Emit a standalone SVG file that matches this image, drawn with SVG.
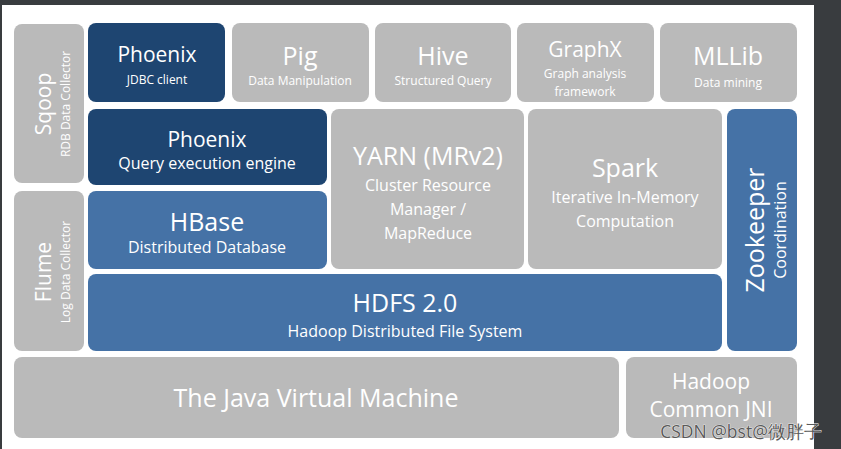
<svg xmlns="http://www.w3.org/2000/svg" width="841" height="449" viewBox="0 0 841 449">
<style>
.g{fill:#bababa}.d{fill:#1e4571}.b{fill:#4572a6}
text{font-family:"Open Sans","Noto Sans",sans-serif;fill:#fff;text-anchor:middle}
.t{font-size:21px}.s{font-size:12px}.L{font-size:25px}.m{font-size:16px}
</style>
<rect width="841" height="449" fill="#393c3f"/>
<rect x="2" y="5" width="812" height="444" fill="#fff"/>
<g id="sqoop"><rect class="g" x="14" y="24" width="70" height="159" rx="8"/><text class="t" transform="translate(51,104) rotate(-90)">Sqoop</text><text class="s" transform="translate(70,104) rotate(-90)">RDB Data Collector</text></g>
<g id="flume"><rect class="g" x="14" y="191" width="70" height="160" rx="8"/><text class="t" transform="translate(51,272) rotate(-90)">Flume</text><text class="s" transform="translate(70,272) rotate(-90)">Log Data Collector</text></g>
<g id="phoenix-jdbc"><rect class="d" x="88" y="23" width="137" height="79" rx="8"/><text class="t" x="157" y="62">Phoenix</text><text class="s" x="157" y="84" font-size="13">JDBC client</text></g>
<g id="pig"><rect class="g" x="232" y="23" width="137" height="79" rx="8"/><text class="L" x="300" y="65">Pig</text><text class="s" x="300" y="85">Data Manipulation</text></g>
<g id="hive"><rect class="g" x="375" y="23" width="136" height="79" rx="8"/><text class="L" x="443" y="65">Hive</text><text class="s" x="443" y="85">Structured Query</text></g>
<g id="graphx"><rect class="g" x="517" y="23" width="137" height="79" rx="8"/><text class="t" x="585" y="57" font-size="22">GraphX</text><text class="s" x="585" y="78">Graph analysis</text><text class="s" x="585" y="96">framework</text></g>
<g id="mllib"><rect class="g" x="660" y="23" width="137" height="79" rx="8"/><text class="L" x="728" y="65">MLLib</text><text class="s" x="728" y="87">Data mining</text></g>
<g id="phoenix-engine"><rect class="d" x="88" y="109" width="239" height="76" rx="8"/><text class="t" x="207" y="147">Phoenix</text><text class="m" x="207" y="169" font-size="14">Query execution engine</text></g>
<g id="yarn"><rect class="g" x="331" y="109" width="193" height="160" rx="8"/><text class="L" x="428" y="165" font-size="24">YARN (MRv2)</text><text class="m" x="428" y="191">Cluster Resource</text><text class="m" x="428" y="215">Manager /</text><text class="m" x="428" y="239">MapReduce</text></g>
<g id="spark"><rect class="g" x="528" y="109" width="194" height="160" rx="8"/><text class="L" x="625" y="177">Spark</text><text class="m" x="625" y="203">Iterative In-Memory</text><text class="m" x="625" y="227">Computation</text></g>
<g id="zookeeper"><rect class="b" x="727" y="109" width="70" height="242" rx="8"/><text class="L" transform="translate(764,230) rotate(-90)">Zookeeper</text><text class="m" transform="translate(786,230) rotate(-90)" font-size="15">Coordination</text></g>
<g id="hbase"><rect class="b" x="88" y="191" width="239" height="78" rx="8"/><text class="L" x="207" y="231">HBase</text><text class="m" x="207" y="253" font-size="14">Distributed Database</text></g>
<g id="hdfs"><rect class="b" x="88" y="274" width="634" height="77" rx="8"/><text class="L" x="405" y="312">HDFS 2.0</text><text class="m" x="405" y="337">Hadoop Distributed File System</text></g>
<g id="jvm"><rect class="g" x="14" y="357" width="605" height="81" rx="8"/><text class="L" x="316" y="407">The Java Virtual Machine</text></g>
<g id="hadoop-common"><rect class="g" x="626" y="357" width="171" height="81" rx="8"/><text class="t" x="711" y="389" font-size="20">Hadoop</text><text class="t" x="711" y="417" font-size="20">Common JNI</text></g>
<g id="connectors"/>
<text x="741" y="438" font-family="Liberation Sans,'Noto Sans CJK SC',sans-serif" font-size="17.5" style="fill:#5a5a5a;stroke:#fff;stroke-width:0.7;paint-order:stroke">CSDN @bst@微胖子</text>
</svg>
